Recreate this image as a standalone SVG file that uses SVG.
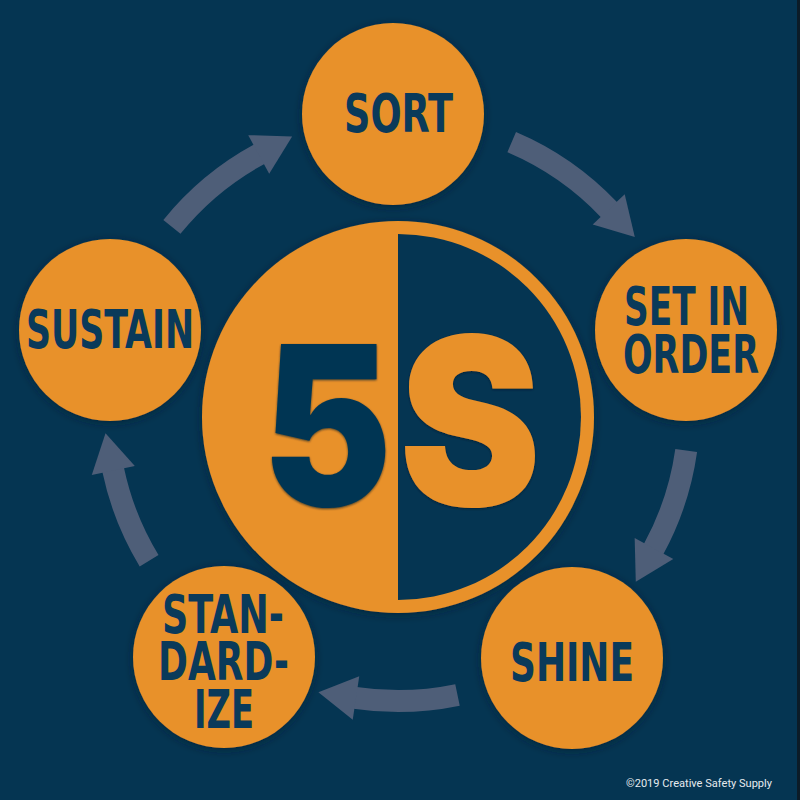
<svg xmlns="http://www.w3.org/2000/svg" width="800" height="800" viewBox="0 0 800 800">
  <defs>
    <style>
      .bg { fill: #053552; }
      .node { fill: #e8912a; filter: url(#shadow); }
      .lbl { font-family: "Liberation Sans Narrow", "DejaVu Sans Condensed", "Liberation Sans", sans-serif; font-weight: bold; font-size: 53px; fill: #0a3a5a; text-anchor: middle; }
      .arrow { fill: none; stroke: #4e5e78; stroke-width: 22; stroke-linecap: butt; marker-end: url(#head); }
      .big { font-family: Inter, "Liberation Sans", sans-serif; font-weight: 900; text-anchor: middle; }
      .copy { font-family: Roboto, "Liberation Sans", sans-serif; font-size: 11px; fill: #e6eaef; }
    </style>
    <filter id="shadow" x="-20%" y="-20%" width="140%" height="140%">
      <feDropShadow dx="0" dy="2" stdDeviation="4" flood-color="#001a2c" flood-opacity="0.6"/>
    </filter>
    <filter id="tshadow" x="-10%" y="-10%" width="120%" height="120%">
      <feDropShadow dx="0" dy="1" stdDeviation="1" flood-color="#001a2c" flood-opacity="0.7"/>
    </filter>
    <marker id="head" markerUnits="userSpaceOnUse" markerWidth="44" markerHeight="50" refX="1" refY="25" orient="auto" overflow="visible">
      <path d="M0,3 L38,25 L0,47 Z" fill="#4e5e78"/>
    </marker>
  </defs>

  <rect class="bg" x="0" y="0" width="800" height="800"/>
  <line x1="798.5" y1="0" x2="798.5" y2="800" stroke="#0c1c28" stroke-width="3"/>

  <g id="connectors">
    <path class="arrow" d="M171.9,226.9 A291,291 0 0 1 259.6,154.0"/>
    <path class="arrow" d="M511.7,142.1 A291,291 0 0 1 609.4,210.1"/>
    <path class="arrow" d="M686.2,450.5 A291,291 0 0 1 653.5,549.3"/>
    <path class="arrow" d="M457.5,694.9 A291,291 0 0 1 355.0,697.8"/>
    <path class="arrow" d="M149.1,560.7 A291,291 0 0 1 113.1,469.5"/>
  </g>

  <g id="center">
    <circle class="node" cx="398" cy="417" r="196"/>
    <path d="M398,234 A183,183 0 0 1 398,600 Z" fill="#053552"/>
    <text class="big" x="327" y="506" font-size="222" fill="#053552" textLength="130" lengthAdjust="spacingAndGlyphs" filter="url(#tshadow)">5</text>
    <text class="big" x="470" y="506" font-size="234" fill="#e8912a" textLength="142" lengthAdjust="spacingAndGlyphs" filter="url(#tshadow)">S</text>
  </g>

  <g id="sort">
    <circle class="node" cx="393" cy="114" r="91"/>
    <text class="lbl" x="398.5" y="132" textLength="109" lengthAdjust="spacingAndGlyphs">SORT</text>
  </g>

  <g id="set-in-order">
    <circle class="node" cx="686" cy="330" r="91"/>
    <text class="lbl" x="686.5" y="325" textLength="125" lengthAdjust="spacingAndGlyphs">SET IN</text>
    <text class="lbl" x="691" y="373" textLength="136" lengthAdjust="spacingAndGlyphs">ORDER</text>
  </g>

  <g id="shine">
    <circle class="node" cx="572" cy="658" r="91"/>
    <text class="lbl" x="572" y="681" textLength="124" lengthAdjust="spacingAndGlyphs">SHINE</text>
  </g>

  <g id="standardize">
    <circle class="node" cx="224" cy="657" r="91"/>
    <text class="lbl" x="223" y="633" textLength="122" lengthAdjust="spacingAndGlyphs">STAN-</text>
    <text class="lbl" x="223.5" y="680" textLength="131" lengthAdjust="spacingAndGlyphs">DARD-</text>
    <text class="lbl" x="224" y="728" textLength="60" lengthAdjust="spacingAndGlyphs">IZE</text>
  </g>

  <g id="sustain">
    <circle class="node" cx="110" cy="330" r="91"/>
    <text class="lbl" x="110" y="348" textLength="168" lengthAdjust="spacingAndGlyphs">SUSTAIN</text>
  </g>

  <text class="copy" x="626" y="787" textLength="146" lengthAdjust="spacingAndGlyphs">©2019 Creative Safety Supply</text>
</svg>
